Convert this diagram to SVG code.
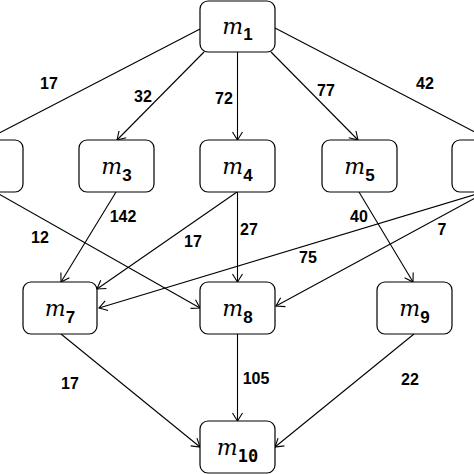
<svg xmlns="http://www.w3.org/2000/svg" width="474" height="474" viewBox="0 0 474 474">
<defs>
<marker id="arr" viewBox="-10 -6 12 12" refX="0" refY="0" markerWidth="12" markerHeight="12" markerUnits="userSpaceOnUse" orient="auto">
<path d="M -8 -5 L 0 0 L -8 5" fill="none" stroke="#000" stroke-width="1.1"/>
</marker>
<style>
.n rect{fill:#fff;stroke:#000;stroke-width:1.2}
.m{font-family:"DejaVu Serif",serif;font-style:italic;font-size:22px}
.s{font-family:"Liberation Sans",Arial,sans-serif;font-weight:bold;font-size:17px}
.e line{stroke:#000;stroke-width:1.1;marker-end:url(#arr)}
.l{font-family:"Liberation Sans",Arial,sans-serif;font-weight:bold;font-size:16px;text-anchor:middle}
</style>
</defs>
<rect width="474" height="474" fill="#fff"/>
<g id="connectors" class="e">
<line x1="200" y1="29" x2="-14" y2="140"/>
<line x1="204" y1="52" x2="117" y2="140"/>
<line x1="237.5" y1="52" x2="237.5" y2="140"/>
<line x1="271" y1="52" x2="358" y2="140"/>
<line x1="275" y1="28" x2="490" y2="140"/>
<line x1="-10" y1="189" x2="200" y2="308"/>
<line x1="116" y1="192" x2="61" y2="282"/>
<line x1="237" y1="192" x2="97" y2="289"/>
<line x1="237.5" y1="192" x2="237.5" y2="282"/>
<line x1="359" y1="192" x2="413" y2="282"/>
<line x1="490" y1="190" x2="99" y2="308"/>
<line x1="490" y1="190" x2="276" y2="306"/>
<line x1="61" y1="334" x2="200" y2="447"/>
<line x1="237.5" y1="334" x2="237.5" y2="421"/>
<line x1="414" y1="334" x2="275" y2="447"/>
</g>
<g id="labels">
<text class="l" x="49" y="89">17</text>
<text class="l" x="143" y="102">32</text>
<text class="l" x="224" y="104">72</text>
<text class="l" x="326" y="96">77</text>
<text class="l" x="425" y="89">42</text>
<text class="l" x="40" y="243">12</text>
<text class="l" x="123" y="222">142</text>
<text class="l" x="193" y="247">17</text>
<text class="l" x="249" y="235">27</text>
<text class="l" x="359" y="222">40</text>
<text class="l" x="442" y="235">7</text>
<text class="l" x="308" y="263">75</text>
<text class="l" x="70" y="389">17</text>
<text class="l" x="256" y="384">105</text>
<text class="l" x="410" y="385">22</text>
</g>
<g id="m1" class="n"><rect x="200" y="1" width="75" height="51" rx="8"/><text x="237.5" y="34" text-anchor="middle"><tspan class="m">m</tspan><tspan class="s" dy="6">1</tspan></text></g>
<g id="m2" class="n"><rect x="-52" y="140" width="75" height="52" rx="8"/></g>
<g id="m3" class="n"><rect x="79" y="140" width="75" height="52" rx="8"/><text x="116.5" y="174" text-anchor="middle"><tspan class="m">m</tspan><tspan class="s" dy="7">3</tspan></text></g>
<g id="m4" class="n"><rect x="200" y="140" width="75" height="52" rx="8"/><text x="237.5" y="174" text-anchor="middle"><tspan class="m">m</tspan><tspan class="s" dy="7">4</tspan></text></g>
<g id="m5" class="n"><rect x="322" y="140" width="75" height="52" rx="8"/><text x="359.5" y="174" text-anchor="middle"><tspan class="m">m</tspan><tspan class="s" dy="7">5</tspan></text></g>
<g id="m6" class="n"><rect x="452" y="140" width="75" height="52" rx="8"/></g>
<g id="m7" class="n"><rect x="23" y="282" width="74" height="52" rx="8"/><text x="60" y="316" text-anchor="middle"><tspan class="m">m</tspan><tspan class="s" dy="7">7</tspan></text></g>
<g id="m8" class="n"><rect x="200" y="282" width="75" height="52" rx="8"/><text x="237.5" y="316" text-anchor="middle"><tspan class="m">m</tspan><tspan class="s" dy="7">8</tspan></text></g>
<g id="m9" class="n"><rect x="377" y="282" width="75" height="52" rx="8"/><text x="414.5" y="316" text-anchor="middle"><tspan class="m">m</tspan><tspan class="s" dy="7">9</tspan></text></g>
<g id="m10" class="n"><rect x="200" y="421" width="75" height="52" rx="8"/><text x="237.5" y="455" text-anchor="middle"><tspan class="m">m</tspan><tspan class="s" dy="7" style="font-family:'DejaVu Sans Mono',monospace">10</tspan></text></g>
</svg>
